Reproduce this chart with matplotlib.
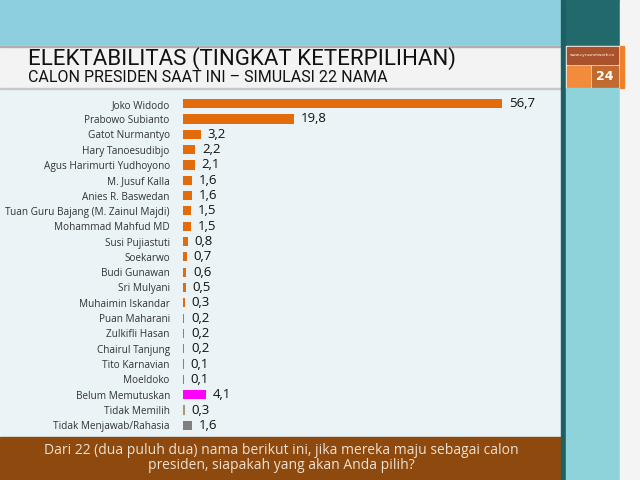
import matplotlib.pyplot as plt
from matplotlib.patches import Rectangle

names = ["Joko Widodo", "Prabowo Subianto", "Gatot Nurmantyo", "Hary Tanoesudibjo",
         "Agus Harimurti Yudhoyono", "M. Jusuf Kalla", "Anies R. Baswedan",
         "Tuan Guru Bajang (M. Zainul Majdi)", "Mohammad Mahfud MD", "Susi Pujiastuti",
         "Soekarwo", "Budi Gunawan", "Sri Mulyani", "Muhaimin Iskandar", "Puan Maharani",
         "Zulkifli Hasan", "Chairul Tanjung", "Tito Karnavian", "Moeldoko",
         "Belum Memutuskan", "Tidak Memilih", "Tidak Menjawab/Rahasia"]
values = [56.7, 19.8, 3.2, 2.2, 2.1, 1.6, 1.6, 1.5, 1.5, 0.8, 0.7, 0.6, 0.5,
          0.3, 0.2, 0.2, 0.2, 0.1, 0.1, 4.1, 0.3, 1.6]
colors = ["#E36C0A"] * 19 + ["#FF00FF", "#A89878", "#7F7F7F"]

W, H = 640, 480
fig = plt.figure(figsize=(6.4, 4.8), dpi=100)

def box(x0, y0, x1, y1, c):
    # pixel coords, y from top
    fig.patches.append(Rectangle((x0 / W, 1 - y1 / H), (x1 - x0) / W, (y1 - y0) / H,
                                 transform=fig.transFigure, color=c, zorder=-10))

box(0, 0, 640, 480, "#EAF4F7")
box(0, 0, 562, 46, "#8ECFDF")
box(0, 46, 562, 88, "#F3F3F3")
box(0, 46, 562, 47, "#B0B0B0")
box(0, 88, 562, 89, "#C8C8C8")
box(0, 437, 562, 480, "#8E4A0E")
box(561, 0, 566, 480, "#1E5F63")
box(566, 0, 620, 46, "#22696C")
box(566, 46, 620, 88, "#F3F3F3")
box(567, 47, 618, 64, "#A9522B")
box(567, 66, 590, 87, "#F28C3C")
box(592, 66, 618, 87, "#C06A30")
box(566, 88, 620, 480, "#8ED3DA")
box(620, 0, 640, 480, "#F4F4F4")
box(620, 46, 624, 88, "#F07F2A")

fig.text(28 / W, 1 - 47 / H, "ELEKTABILITAS (TINGKAT KETERPILIHAN)", fontsize=16,
         va="top", color="#111111", family="Roboto")
fig.text(28 / W, 1 - 70 / H, "CALON PRESIDEN SAAT INI – SIMULASI 22 NAMA", fontsize=11.5,
         va="top", color="#111111", family="Roboto")
fig.text(592 / W, 1 - 55 / H, "www.cyrusnetwork.co", fontsize=3, color="white",
         ha="center", va="center")
fig.text(605 / W, 1 - 76 / H, "24", fontsize=9, color="white", ha="center",
         va="center", weight="bold")
fig.text(281 / W, 1 - 458 / H,
         "Dari 22 (dua puluh dua) nama berikut ini, jika mereka maju sebagai calon\n"
         "presiden, siapakah yang akan Anda pilih?",
         fontsize=10, color="#F0E0D0", ha="center", va="center",
         family="Open Sans", linespacing=1.0)

ax = fig.add_axes([183 / W, 1 - 433 / H, (560 - 183) / W, (433 - 96) / H])
ax.set_facecolor("none")
y = list(range(len(names)))
ax.barh(y, values, color=colors, height=0.6)
for yi, v in zip(y, values):
    ax.text(v + 1.2, yi, f"{v:.1f}".replace(".", ","), va="center", fontsize=9.5,
            color="#111111", family="Open Sans")
ax.set_yticks(y)
ax.set_yticklabels(names, fontsize=7.2, color="#333333", family="Open Sans")
ax.tick_params(left=False, bottom=False, labelbottom=False, pad=6)
ax.set_xlim(0, (560 - 183) / 5.63)
ax.set_ylim(len(names) - 0.5, -0.5)
for s in ax.spines.values():
    s.set_visible(False)

fig.savefig("out.png", dpi=100)
